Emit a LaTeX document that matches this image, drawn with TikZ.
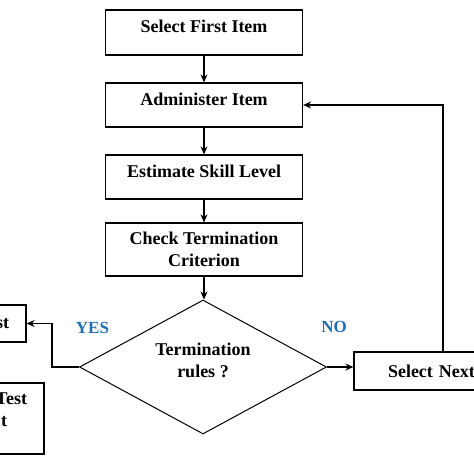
\documentclass[tikz,border=0pt]{standalone}
\usepackage{fontspec}
\setmainfont{Liberation Serif}
\usepackage{xcolor}
\usetikzlibrary{shapes.geometric,arrows.meta,positioning}
\definecolor{lblue}{RGB}{31,109,178}

\begin{document}
\begin{tikzpicture}[x=1pt,y=-1pt,
  box/.style={draw,line width=1.2pt,inner sep=0pt,minimum width=197pt,font=\bfseries\fontsize{18}{22}\selectfont},
  onel/.style={text height=12pt,text depth=12pt},
  arr/.style={line width=1.8pt,-{Stealth[length=8pt,width=7pt]}},
  lab/.style={text=lblue,font=\bfseries\fontsize{17}{20}\selectfont}]
\useasboundingbox (0,0) rectangle (474,474);
\clip (0,0) rectangle (474,474);
\node[box,onel,minimum height=45pt] (F) at (204,32.5) {Select First Item};
\node[box,onel,minimum height=44pt] (A) at (204,105) {Administer Item};
\node[box,onel,minimum height=44pt] (E) at (204,177) {Estimate Skill Level};
\node[box,align=center,minimum height=53pt] (C) at (204,249.5) {Check Termination\\Criterion};
\node[diamond,draw,line width=1pt,inner sep=0pt,aspect=1.8,minimum width=247pt,minimum height=134pt,
  align=center,text height=34pt,text depth=14pt,font=\bfseries\fontsize{18}{22}\selectfont] (T) at (203,367) {Termination\\rules ?};
\node[box,minimum width=47pt,minimum height=37pt] (S) at (2.5,323.5) {st};
\node[box,minimum width=80pt,text width=46pt,inner xsep=17pt,minimum height=71pt,align=right,text height=12pt,text depth=40pt] (R) at (4,418.5) {Test\\t\rule{20pt}{0pt}};
\node[box,minimum width=168pt,minimum height=38pt,text width=100pt,inner xsep=34pt,align=left] (N) at (438,371) {Select Next};
\node[lab] (yes) at (92.5,327.5) {YES};
\node[lab] (no) at (334,326.5) {NO};
\draw[arr] (F) -- (A);
\draw[arr] (A) -- (E);
\draw[arr] (E) -- (C);
\draw[arr] (C.south) -- (C.south |- T.north);
\draw[arr] (T.west) -- ++(-27,0) |- (S.east);
\draw[arr] (T.east) -- (T.east -| N.west);
\draw[arr] ([xshift=5pt]N.north) |- (A.east);
\end{tikzpicture}
\end{document}
